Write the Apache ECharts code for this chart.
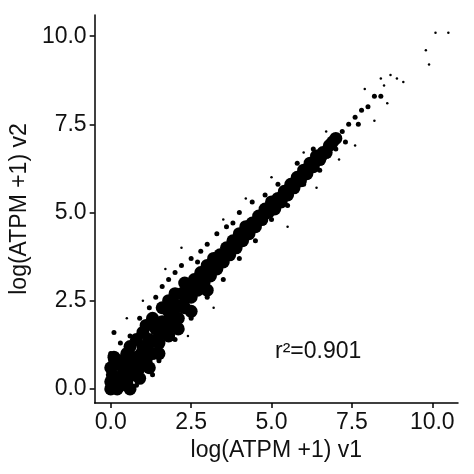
<!DOCTYPE html>
<html><head><meta charset="utf-8">
<script src="https://cdn.jsdelivr.net/npm/echarts@6/dist/echarts.min.js"></script>
<style>html,body{margin:0;background:#fff}#c{width:474px;height:474px}</style>
</head><body><div id="c"></div>
<script>
const xTicks = ['0.0','2.5','5.0','7.5','10.0'];
const corePoints = [[0,0],[0.1,0.05],[0.2,0.3],[0.3,0.1],[0.05,0.4],[0.4,0.5],[0.5,0.2],[0.6,0.7],[0.7,0.4],[0.2,0.7],[0.8,0.9],[0.9,0.6],[1,1.2],[1.1,0.8],[0.5,1.0],[1.2,1.4],[1.3,1.0],[1.4,1.7],[1.5,1.3],[1.0,1.6],[1.6,1.9],[1.7,1.6],[1.8,2.2],[1.9,1.8],[2.0,2.4],[2.1,2.0],[2.2,2.7],[2.3,2.3],[2.4,2.9],[2.5,2.6],[2.6,3.1],[2.7,2.8],[2.8,3.3],[2.9,3.0],[3.0,3.5],[3.1,3.2],[3.2,3.7],[3.3,3.4],[3.4,3.8],[3.5,3.6],[3.6,4.0],[3.7,3.8],[3.8,4.2],[3.9,4.0],[4.0,4.4],[4.1,4.2],[4.2,4.6],[4.3,4.4],[4.4,4.7],[4.5,4.6],[4.6,4.9],[4.7,4.8],[4.8,5.1],[4.9,5.0],[5.0,5.3],[5.1,5.1],[5.2,5.4],[5.3,5.3],[5.4,5.6],[5.5,5.5],[5.6,5.8],[5.7,5.7],[5.8,6.0],[5.9,5.9],[6.0,6.2],[6.1,6.1],[6.2,6.4],[6.3,6.3],[6.4,6.6],[6.5,6.5],[6.6,6.7],[6.7,6.7],[6.8,6.9],[7.0,7.1],
  [0.15,0.15],[0.35,0.35],[0.55,0.5],[0.75,0.75],[0.95,1.0],[1.15,1.1],[1.35,1.35],[1.55,1.6],[1.75,1.9],[1.95,2.1],[2.15,2.35],[2.35,2.6],[2.55,2.85],[2.75,3.05],[2.95,3.25],[3.15,3.45],[3.35,3.6],[3.55,3.8],[3.75,4.0],[3.95,4.2],[4.15,4.4],[4.35,4.55],[4.55,4.75],[4.75,4.95],[4.95,5.15],[5.15,5.3],[5.35,5.45],[5.55,5.65],[5.75,5.85],[5.95,6.05],[6.15,6.25],[6.35,6.45],[6.55,6.6],[6.9,7.0],
  [0.0,0.6],[0.1,0.9],[0.3,0.8],[0.6,1.2],[0.8,1.4],[1.1,1.8],[1.3,2.0],[1.6,2.3],[1.8,2.5],[2.0,2.7],[2.3,3.0],[0.6,0.0],[0.9,0.3],[1.2,0.6],[1.5,1.0],[1.8,1.5],[2.1,1.7],[2.5,2.2],[3.0,2.8],[0.0,0.2],[0.2,0.0]];
const fringePoints = [[0.3,1.3],[0.6,1.5],[0.9,2.0],[1.2,2.3],[1.4,2.6],[1.6,2.9],[1.8,3.1],[2.0,3.3],[2.2,3.5],[2.5,3.7],[2.8,3.9],[3.0,4.1],[3.3,4.4],[3.6,4.6],[4.0,5.0],[4.4,5.3],[1.0,0.3],[1.5,0.8],[2.0,1.4],[2.5,2.0],[3.0,2.6],[3.5,3.1],[4.0,3.7],[4.5,4.2],[5.0,4.8],[5.5,5.2],[6.0,5.8],[6.5,6.2],[7.0,6.8],[7.2,7.3],[7.4,7.5],[7.6,7.7],[7.8,7.9],[7.3,7.0],[7.7,7.5],[8.0,8.0],[8.2,8.3],[8.4,8.3],[0.0,1.0],[0.1,1.6],[0.0,0.8],[1.3,0.4],[0.8,0.1],[2.7,3.6],[3.8,4.7],[4.8,5.5],[5.2,5.8],[5.8,6.4],[6.3,6.8]];
const outlierPoints = [[8.5,8.6],[8.7,8.9],[8.6,8.1],[8.9,8.8],[9.1,8.7],[9.8,9.6],[10.1,10.1],[10.5,10.1],[9.9,9.2],[6.4,5.7],[7.6,6.9],[5.5,4.6],[4.2,5.4],[5.0,6.0],[3.5,4.8],[2.2,4.0],[1.0,2.5],[6.7,7.3],[7.1,6.5],[8.2,7.6],[6.0,6.7],[3.2,2.3],[2.4,1.5],[0.5,2.0],[1.7,3.4],[7.9,8.5],[8.4,8.8]];
const chart = echarts.init(document.getElementById('c'));
const f = 'Liberation Sans';
const ticks = [0,2.5,5,7.5,10];
const axisCommon = {
  axisLine:{show:true,onZero:false,lineStyle:{color:'#000',width:1.5}},
  axisTick:{show:true,length:5,customValues:ticks,lineStyle:{color:'#000',width:1.5}},
  splitLine:{show:false},
  axisLabel:{color:'#111',fontSize:23,fontFamily:f,customValues:ticks,formatter:v=>xTicks[Math.round(v/2.5)]},
  nameLocation:'middle',
  nameTextStyle:{color:'#111',fontSize:23,fontFamily:f}
};
chart.setOption({
  animation:false,
  grid:{left:88,right:16,top:15,bottom:71,containLabel:false},
  xAxis:Object.assign({},axisCommon,{type:'value',min:-0.5,max:10.8,name:'log(ATPM +1) v1',nameGap:36}),
  yAxis:Object.assign({},axisCommon,{type:'value',min:-0.4,max:10.6,name:'log(ATPM +1) v2',nameGap:62}),
  series:[
    {type:'scatter',data:corePoints,symbolSize:13,itemStyle:{color:'#000',opacity:1}},
    {type:'scatter',data:fringePoints,symbolSize:5,itemStyle:{color:'#000',opacity:1}},
    {type:'scatter',data:outlierPoints,symbolSize:2.5,itemStyle:{color:'#000',opacity:1}}
  ],
  graphic:[{type:'text',left:275,top:340,style:{text:'r²=0.901',fontSize:23,fontFamily:f,fill:'#111'}}]
});
</script></body></html>
